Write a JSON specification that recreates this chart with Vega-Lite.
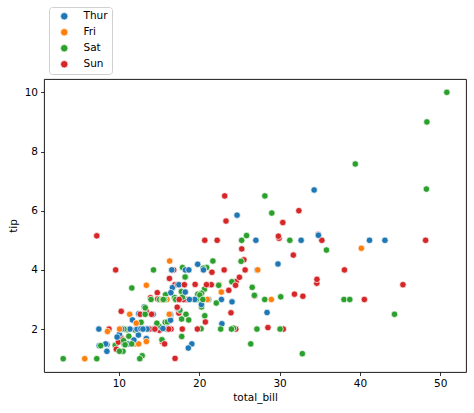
{
  "$schema": "https://vega.github.io/schema/vega-lite/v6.json",
  "width": 422,
  "height": 293,
  "autosize": {"type": "none"},
  "padding": {"left": 44, "top": 79, "right": 8, "bottom": 41},
  "background": "white",
  "config": {
    "font": "DejaVu Sans",
    "view": {"stroke": "#000000", "strokeWidth": 0.9},
    "axis": {
      "grid": false,
      "domain": false,
      "tickColor": "#000000",
      "tickSize": 3.5,
      "tickWidth": 0.8,
      "labelFont": "DejaVu Sans",
      "labelFontSize": 10.5,
      "labelColor": "#000000",
      "titleFont": "DejaVu Sans",
      "titleFontSize": 10.5,
      "titleFontWeight": "normal",
      "titleColor": "#000000",
      "labelPadding": 3
    }
  },
  "data": {
    "values": [
      {"total_bill": 16.99, "tip": 1.01, "day": "Sun"},
      {"total_bill": 10.34, "tip": 1.66, "day": "Sun"},
      {"total_bill": 21.01, "tip": 3.5, "day": "Sun"},
      {"total_bill": 23.68, "tip": 3.31, "day": "Sun"},
      {"total_bill": 24.59, "tip": 3.61, "day": "Sun"},
      {"total_bill": 25.29, "tip": 4.71, "day": "Sun"},
      {"total_bill": 8.77, "tip": 2.0, "day": "Sun"},
      {"total_bill": 26.88, "tip": 3.12, "day": "Sun"},
      {"total_bill": 15.04, "tip": 1.96, "day": "Sun"},
      {"total_bill": 14.78, "tip": 3.23, "day": "Sun"},
      {"total_bill": 10.27, "tip": 1.71, "day": "Sun"},
      {"total_bill": 35.26, "tip": 5.0, "day": "Sun"},
      {"total_bill": 15.42, "tip": 1.57, "day": "Sun"},
      {"total_bill": 18.43, "tip": 3.0, "day": "Sun"},
      {"total_bill": 14.83, "tip": 3.02, "day": "Sun"},
      {"total_bill": 21.58, "tip": 3.92, "day": "Sun"},
      {"total_bill": 10.33, "tip": 1.67, "day": "Sun"},
      {"total_bill": 16.29, "tip": 3.71, "day": "Sun"},
      {"total_bill": 16.97, "tip": 3.5, "day": "Sun"},
      {"total_bill": 20.65, "tip": 3.35, "day": "Sat"},
      {"total_bill": 17.92, "tip": 4.08, "day": "Sat"},
      {"total_bill": 20.29, "tip": 2.75, "day": "Sat"},
      {"total_bill": 15.77, "tip": 2.23, "day": "Sat"},
      {"total_bill": 39.42, "tip": 7.58, "day": "Sat"},
      {"total_bill": 19.82, "tip": 3.18, "day": "Sat"},
      {"total_bill": 17.81, "tip": 2.34, "day": "Sat"},
      {"total_bill": 13.37, "tip": 2.0, "day": "Sat"},
      {"total_bill": 12.69, "tip": 2.0, "day": "Sat"},
      {"total_bill": 21.7, "tip": 4.3, "day": "Sat"},
      {"total_bill": 19.65, "tip": 3.0, "day": "Sat"},
      {"total_bill": 9.55, "tip": 1.45, "day": "Sat"},
      {"total_bill": 18.35, "tip": 2.5, "day": "Sat"},
      {"total_bill": 15.06, "tip": 3.0, "day": "Sat"},
      {"total_bill": 20.69, "tip": 2.45, "day": "Sat"},
      {"total_bill": 17.78, "tip": 3.27, "day": "Sat"},
      {"total_bill": 24.06, "tip": 3.6, "day": "Sat"},
      {"total_bill": 16.31, "tip": 2.0, "day": "Sat"},
      {"total_bill": 16.93, "tip": 3.07, "day": "Sat"},
      {"total_bill": 18.69, "tip": 2.31, "day": "Sat"},
      {"total_bill": 31.27, "tip": 5.0, "day": "Sat"},
      {"total_bill": 16.04, "tip": 2.24, "day": "Sat"},
      {"total_bill": 17.46, "tip": 2.54, "day": "Sun"},
      {"total_bill": 13.94, "tip": 3.06, "day": "Sun"},
      {"total_bill": 9.68, "tip": 1.32, "day": "Sun"},
      {"total_bill": 30.4, "tip": 5.6, "day": "Sun"},
      {"total_bill": 18.29, "tip": 3.0, "day": "Sun"},
      {"total_bill": 22.23, "tip": 5.0, "day": "Sun"},
      {"total_bill": 32.4, "tip": 6.0, "day": "Sun"},
      {"total_bill": 28.55, "tip": 2.05, "day": "Sun"},
      {"total_bill": 18.04, "tip": 3.0, "day": "Sun"},
      {"total_bill": 12.54, "tip": 2.5, "day": "Sun"},
      {"total_bill": 10.29, "tip": 2.6, "day": "Sun"},
      {"total_bill": 34.81, "tip": 5.2, "day": "Sun"},
      {"total_bill": 9.94, "tip": 1.56, "day": "Sun"},
      {"total_bill": 25.56, "tip": 4.34, "day": "Sun"},
      {"total_bill": 19.49, "tip": 3.51, "day": "Sun"},
      {"total_bill": 38.01, "tip": 3.0, "day": "Sat"},
      {"total_bill": 26.41, "tip": 1.5, "day": "Sat"},
      {"total_bill": 11.24, "tip": 1.76, "day": "Sat"},
      {"total_bill": 48.27, "tip": 6.73, "day": "Sat"},
      {"total_bill": 20.29, "tip": 3.21, "day": "Sat"},
      {"total_bill": 13.81, "tip": 2.0, "day": "Sat"},
      {"total_bill": 11.02, "tip": 1.98, "day": "Sat"},
      {"total_bill": 18.29, "tip": 3.76, "day": "Sat"},
      {"total_bill": 17.59, "tip": 2.64, "day": "Sat"},
      {"total_bill": 20.08, "tip": 3.15, "day": "Sat"},
      {"total_bill": 16.45, "tip": 2.47, "day": "Sat"},
      {"total_bill": 3.07, "tip": 1.0, "day": "Sat"},
      {"total_bill": 20.23, "tip": 2.01, "day": "Sat"},
      {"total_bill": 15.01, "tip": 2.09, "day": "Sat"},
      {"total_bill": 12.02, "tip": 1.97, "day": "Sat"},
      {"total_bill": 17.07, "tip": 3.0, "day": "Sat"},
      {"total_bill": 26.86, "tip": 3.14, "day": "Sat"},
      {"total_bill": 25.28, "tip": 5.0, "day": "Sat"},
      {"total_bill": 14.73, "tip": 2.2, "day": "Sat"},
      {"total_bill": 10.51, "tip": 1.25, "day": "Sat"},
      {"total_bill": 17.92, "tip": 3.08, "day": "Sat"},
      {"total_bill": 27.2, "tip": 4.0, "day": "Thur"},
      {"total_bill": 22.76, "tip": 3.0, "day": "Thur"},
      {"total_bill": 17.29, "tip": 2.71, "day": "Thur"},
      {"total_bill": 19.44, "tip": 3.0, "day": "Thur"},
      {"total_bill": 16.66, "tip": 3.4, "day": "Thur"},
      {"total_bill": 10.07, "tip": 1.83, "day": "Thur"},
      {"total_bill": 32.68, "tip": 5.0, "day": "Thur"},
      {"total_bill": 15.98, "tip": 2.03, "day": "Thur"},
      {"total_bill": 34.83, "tip": 5.17, "day": "Thur"},
      {"total_bill": 13.03, "tip": 2.0, "day": "Thur"},
      {"total_bill": 18.28, "tip": 4.0, "day": "Thur"},
      {"total_bill": 24.71, "tip": 5.85, "day": "Thur"},
      {"total_bill": 21.16, "tip": 3.0, "day": "Thur"},
      {"total_bill": 28.97, "tip": 3.0, "day": "Fri"},
      {"total_bill": 22.49, "tip": 3.5, "day": "Fri"},
      {"total_bill": 5.75, "tip": 1.0, "day": "Fri"},
      {"total_bill": 16.32, "tip": 4.3, "day": "Fri"},
      {"total_bill": 22.75, "tip": 3.25, "day": "Fri"},
      {"total_bill": 40.17, "tip": 4.73, "day": "Fri"},
      {"total_bill": 27.28, "tip": 4.0, "day": "Fri"},
      {"total_bill": 12.03, "tip": 1.5, "day": "Fri"},
      {"total_bill": 21.01, "tip": 3.0, "day": "Fri"},
      {"total_bill": 12.46, "tip": 1.5, "day": "Fri"},
      {"total_bill": 11.35, "tip": 2.5, "day": "Fri"},
      {"total_bill": 15.38, "tip": 3.0, "day": "Fri"},
      {"total_bill": 44.3, "tip": 2.5, "day": "Sat"},
      {"total_bill": 22.42, "tip": 3.48, "day": "Sat"},
      {"total_bill": 20.92, "tip": 4.08, "day": "Sat"},
      {"total_bill": 15.36, "tip": 1.64, "day": "Sat"},
      {"total_bill": 20.49, "tip": 4.06, "day": "Sat"},
      {"total_bill": 25.21, "tip": 4.29, "day": "Sat"},
      {"total_bill": 18.24, "tip": 3.76, "day": "Sat"},
      {"total_bill": 14.31, "tip": 4.0, "day": "Sat"},
      {"total_bill": 14.0, "tip": 3.0, "day": "Sat"},
      {"total_bill": 7.25, "tip": 1.0, "day": "Sat"},
      {"total_bill": 38.07, "tip": 4.0, "day": "Sun"},
      {"total_bill": 23.95, "tip": 2.55, "day": "Sun"},
      {"total_bill": 25.71, "tip": 4.0, "day": "Sun"},
      {"total_bill": 17.31, "tip": 3.5, "day": "Sun"},
      {"total_bill": 29.93, "tip": 5.07, "day": "Sun"},
      {"total_bill": 10.65, "tip": 1.5, "day": "Thur"},
      {"total_bill": 12.43, "tip": 1.8, "day": "Thur"},
      {"total_bill": 24.08, "tip": 2.92, "day": "Thur"},
      {"total_bill": 11.69, "tip": 2.31, "day": "Thur"},
      {"total_bill": 13.42, "tip": 1.68, "day": "Thur"},
      {"total_bill": 14.26, "tip": 2.5, "day": "Thur"},
      {"total_bill": 15.95, "tip": 2.0, "day": "Thur"},
      {"total_bill": 12.48, "tip": 2.52, "day": "Thur"},
      {"total_bill": 29.8, "tip": 4.2, "day": "Thur"},
      {"total_bill": 8.52, "tip": 1.48, "day": "Thur"},
      {"total_bill": 14.52, "tip": 2.0, "day": "Thur"},
      {"total_bill": 11.38, "tip": 2.0, "day": "Thur"},
      {"total_bill": 22.82, "tip": 2.18, "day": "Thur"},
      {"total_bill": 19.08, "tip": 1.5, "day": "Thur"},
      {"total_bill": 20.27, "tip": 2.83, "day": "Thur"},
      {"total_bill": 11.17, "tip": 1.5, "day": "Thur"},
      {"total_bill": 12.26, "tip": 2.0, "day": "Thur"},
      {"total_bill": 18.26, "tip": 3.25, "day": "Thur"},
      {"total_bill": 8.51, "tip": 1.25, "day": "Thur"},
      {"total_bill": 10.33, "tip": 2.0, "day": "Thur"},
      {"total_bill": 14.15, "tip": 2.0, "day": "Thur"},
      {"total_bill": 16.0, "tip": 2.0, "day": "Thur"},
      {"total_bill": 13.16, "tip": 2.75, "day": "Thur"},
      {"total_bill": 17.47, "tip": 3.5, "day": "Thur"},
      {"total_bill": 34.3, "tip": 6.7, "day": "Thur"},
      {"total_bill": 41.19, "tip": 5.0, "day": "Thur"},
      {"total_bill": 27.05, "tip": 5.0, "day": "Thur"},
      {"total_bill": 16.43, "tip": 2.3, "day": "Thur"},
      {"total_bill": 8.35, "tip": 1.5, "day": "Thur"},
      {"total_bill": 18.64, "tip": 1.36, "day": "Thur"},
      {"total_bill": 11.87, "tip": 1.63, "day": "Thur"},
      {"total_bill": 9.78, "tip": 1.73, "day": "Thur"},
      {"total_bill": 7.51, "tip": 2.0, "day": "Thur"},
      {"total_bill": 14.07, "tip": 2.5, "day": "Sun"},
      {"total_bill": 13.13, "tip": 2.0, "day": "Sun"},
      {"total_bill": 17.26, "tip": 2.74, "day": "Sun"},
      {"total_bill": 24.55, "tip": 2.0, "day": "Sun"},
      {"total_bill": 19.77, "tip": 2.0, "day": "Sun"},
      {"total_bill": 29.85, "tip": 5.14, "day": "Sun"},
      {"total_bill": 48.17, "tip": 5.0, "day": "Sun"},
      {"total_bill": 25.0, "tip": 3.75, "day": "Sun"},
      {"total_bill": 13.39, "tip": 2.61, "day": "Sun"},
      {"total_bill": 16.49, "tip": 2.0, "day": "Sun"},
      {"total_bill": 21.5, "tip": 3.5, "day": "Sun"},
      {"total_bill": 12.66, "tip": 2.5, "day": "Sun"},
      {"total_bill": 16.21, "tip": 2.0, "day": "Sun"},
      {"total_bill": 13.81, "tip": 2.0, "day": "Sun"},
      {"total_bill": 17.51, "tip": 3.0, "day": "Sun"},
      {"total_bill": 24.52, "tip": 3.48, "day": "Sun"},
      {"total_bill": 20.76, "tip": 2.24, "day": "Sun"},
      {"total_bill": 31.71, "tip": 4.5, "day": "Sun"},
      {"total_bill": 10.59, "tip": 1.61, "day": "Sat"},
      {"total_bill": 10.63, "tip": 2.0, "day": "Sat"},
      {"total_bill": 50.81, "tip": 10.0, "day": "Sat"},
      {"total_bill": 15.81, "tip": 3.16, "day": "Sat"},
      {"total_bill": 7.25, "tip": 5.15, "day": "Sun"},
      {"total_bill": 31.85, "tip": 3.18, "day": "Sun"},
      {"total_bill": 16.82, "tip": 4.0, "day": "Sun"},
      {"total_bill": 32.9, "tip": 3.11, "day": "Sun"},
      {"total_bill": 17.89, "tip": 2.0, "day": "Sun"},
      {"total_bill": 14.48, "tip": 2.0, "day": "Sun"},
      {"total_bill": 9.6, "tip": 4.0, "day": "Sun"},
      {"total_bill": 34.63, "tip": 3.55, "day": "Sun"},
      {"total_bill": 34.65, "tip": 3.68, "day": "Sun"},
      {"total_bill": 23.33, "tip": 5.65, "day": "Sun"},
      {"total_bill": 45.35, "tip": 3.5, "day": "Sun"},
      {"total_bill": 23.17, "tip": 6.5, "day": "Sun"},
      {"total_bill": 40.55, "tip": 3.0, "day": "Sun"},
      {"total_bill": 20.69, "tip": 5.0, "day": "Sun"},
      {"total_bill": 20.9, "tip": 3.5, "day": "Sun"},
      {"total_bill": 30.46, "tip": 2.0, "day": "Sun"},
      {"total_bill": 18.15, "tip": 3.5, "day": "Sun"},
      {"total_bill": 23.1, "tip": 4.0, "day": "Sun"},
      {"total_bill": 15.69, "tip": 1.5, "day": "Sun"},
      {"total_bill": 19.81, "tip": 4.19, "day": "Thur"},
      {"total_bill": 28.44, "tip": 2.56, "day": "Thur"},
      {"total_bill": 15.48, "tip": 2.02, "day": "Thur"},
      {"total_bill": 16.58, "tip": 4.0, "day": "Thur"},
      {"total_bill": 7.56, "tip": 1.44, "day": "Thur"},
      {"total_bill": 10.34, "tip": 2.0, "day": "Thur"},
      {"total_bill": 43.11, "tip": 5.0, "day": "Thur"},
      {"total_bill": 13.0, "tip": 2.0, "day": "Thur"},
      {"total_bill": 13.51, "tip": 2.0, "day": "Thur"},
      {"total_bill": 18.71, "tip": 4.0, "day": "Thur"},
      {"total_bill": 12.74, "tip": 2.01, "day": "Thur"},
      {"total_bill": 13.0, "tip": 2.0, "day": "Thur"},
      {"total_bill": 16.4, "tip": 2.5, "day": "Thur"},
      {"total_bill": 20.53, "tip": 4.0, "day": "Thur"},
      {"total_bill": 16.47, "tip": 3.23, "day": "Thur"},
      {"total_bill": 26.59, "tip": 3.41, "day": "Sat"},
      {"total_bill": 38.73, "tip": 3.0, "day": "Sat"},
      {"total_bill": 24.27, "tip": 2.03, "day": "Sat"},
      {"total_bill": 12.76, "tip": 2.23, "day": "Sat"},
      {"total_bill": 30.06, "tip": 2.0, "day": "Sat"},
      {"total_bill": 25.89, "tip": 5.16, "day": "Sat"},
      {"total_bill": 48.33, "tip": 9.0, "day": "Sat"},
      {"total_bill": 13.27, "tip": 2.5, "day": "Sat"},
      {"total_bill": 28.17, "tip": 6.5, "day": "Sat"},
      {"total_bill": 12.9, "tip": 1.1, "day": "Sat"},
      {"total_bill": 28.15, "tip": 3.0, "day": "Sat"},
      {"total_bill": 11.59, "tip": 1.5, "day": "Sat"},
      {"total_bill": 7.74, "tip": 1.44, "day": "Sat"},
      {"total_bill": 30.14, "tip": 3.09, "day": "Sat"},
      {"total_bill": 12.16, "tip": 2.2, "day": "Fri"},
      {"total_bill": 13.42, "tip": 3.48, "day": "Fri"},
      {"total_bill": 8.58, "tip": 1.92, "day": "Fri"},
      {"total_bill": 15.98, "tip": 3.0, "day": "Fri"},
      {"total_bill": 13.42, "tip": 1.58, "day": "Fri"},
      {"total_bill": 16.27, "tip": 2.5, "day": "Fri"},
      {"total_bill": 10.09, "tip": 2.0, "day": "Fri"},
      {"total_bill": 20.45, "tip": 3.0, "day": "Sat"},
      {"total_bill": 13.28, "tip": 2.72, "day": "Sat"},
      {"total_bill": 22.12, "tip": 2.88, "day": "Sat"},
      {"total_bill": 24.01, "tip": 2.0, "day": "Sat"},
      {"total_bill": 15.69, "tip": 3.0, "day": "Sat"},
      {"total_bill": 11.61, "tip": 3.39, "day": "Sat"},
      {"total_bill": 10.77, "tip": 1.47, "day": "Sat"},
      {"total_bill": 15.53, "tip": 3.0, "day": "Sat"},
      {"total_bill": 10.07, "tip": 1.25, "day": "Sat"},
      {"total_bill": 12.6, "tip": 1.0, "day": "Sat"},
      {"total_bill": 32.83, "tip": 1.17, "day": "Sat"},
      {"total_bill": 35.83, "tip": 4.67, "day": "Sat"},
      {"total_bill": 29.03, "tip": 5.92, "day": "Sat"},
      {"total_bill": 27.18, "tip": 2.0, "day": "Sat"},
      {"total_bill": 22.67, "tip": 2.0, "day": "Sat"},
      {"total_bill": 17.82, "tip": 1.75, "day": "Sat"},
      {"total_bill": 18.78, "tip": 3.0, "day": "Thur"}
    ]
  },
  "mark": {"type": "point", "filled": true, "shape": "circle", "size": 42, "opacity": 1, "stroke": "white", "strokeWidth": 0.7},
  "encoding": {
    "x": {
      "field": "total_bill",
      "type": "quantitative",
      "title": "total_bill",
      "scale": {"domain": [0.683, 53.197], "nice": false, "zero": false},
      "axis": {"values": [10, 20, 30, 40, 50], "titlePadding": 3}
    },
    "y": {
      "field": "tip",
      "type": "quantitative",
      "title": "tip",
      "scale": {"domain": [0.55, 10.45], "nice": false, "zero": false},
      "axis": {"values": [2, 4, 6, 8, 10], "titlePadding": 6}
    },
    "color": {
      "field": "day",
      "type": "nominal",
      "title": null,
      "scale": {
        "domain": ["Thur", "Fri", "Sat", "Sun"],
        "range": ["#1f77b4", "#ff7f0e", "#2ca02c", "#d62728"]
      },
      "legend": {
        "orient": "none",
        "legendX": 5,
        "legendY": -72,
        "symbolType": "circle",
        "symbolSize": 55,
        "symbolOffset": 6,
        "symbolStrokeColor": "white",
        "symbolStrokeWidth": 0.7,
        "labelFontSize": 10.5,
        "labelFont": "DejaVu Sans",
        "labelColor": "#000000",
        "labelOffset": 14,
        "rowPadding": 5,
        "strokeColor": "#d0d0d0",
        "cornerRadius": 3,
        "padding": 4,
        "fillColor": "white"
      }
    }
  }
}
